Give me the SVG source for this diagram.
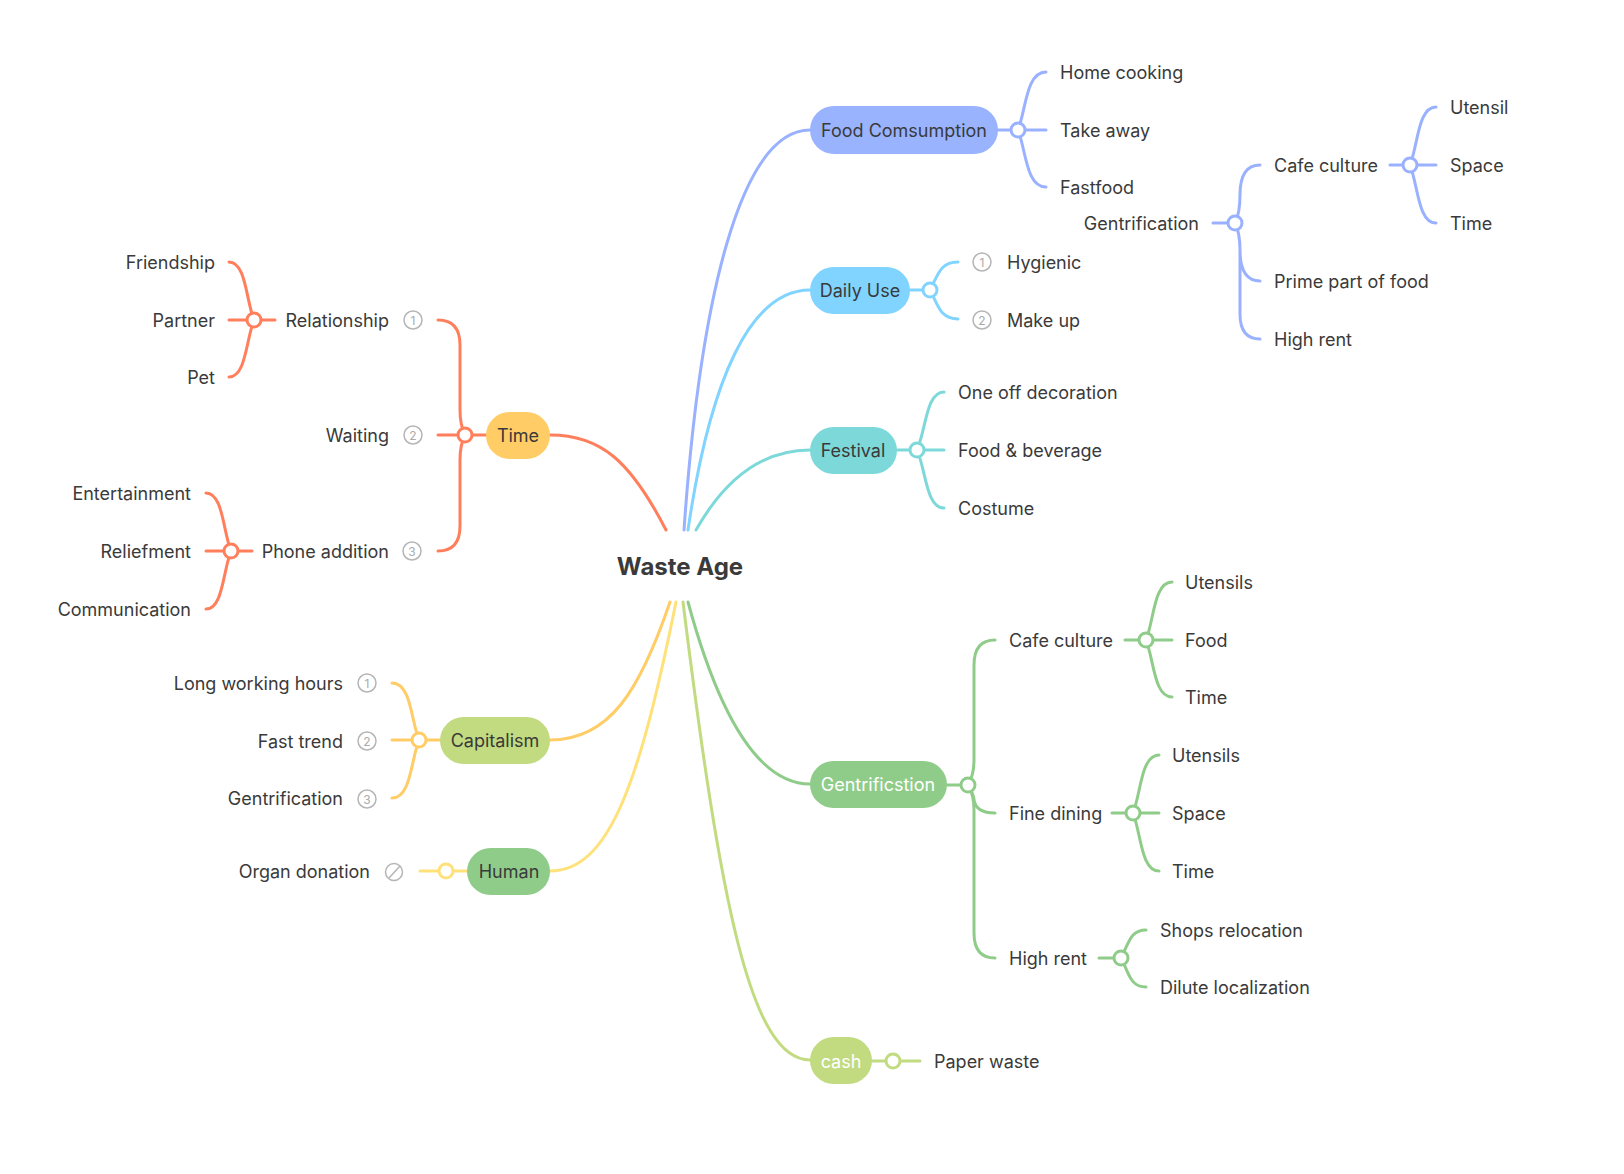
<svg xmlns="http://www.w3.org/2000/svg" width="1624" height="1174" viewBox="0 0 1624 1174">
<style>
text{font-family:Inter,"Noto Sans",sans-serif;font-size:18px;fill:#3a3a3a;dominant-baseline:central}
.r{text-anchor:end}.c{text-anchor:middle}
.w{fill:#fff}
.ln{fill:none;stroke-width:3;stroke-linecap:round}
.j{fill:#fff;stroke-width:3}
.b{fill:none;stroke:#b5b5b5;stroke-width:1.5}
.bt{font-size:12px;fill:#aaa;text-anchor:middle}
</style>
<rect width="1624" height="1174" fill="#fff"/>
<g id="connectors">
<g stroke="#99B1FF" class="ln">
<path class="ln" stroke="#99B1FF" d="M684,530 C700,300 740,130 810,130"/>
<path class="ln" stroke="#99B1FF" d="M998,130 L1046,130 M1018,130 C1026,110 1026,72 1046,72 M1018,130 C1026,150 1026,187 1046,187"/>
<path class="ln" stroke="#99B1FF" d="M1213,223 L1235,223 M1235,223 Q1240,213 1240,195 Q1240,165 1260,165 M1235,223 Q1240,233 1240,250 Q1240,281 1260,281 M1235,223 Q1240,233 1240,250 L1240,314 Q1240,339 1260,339"/>
<path class="ln" stroke="#99B1FF" d="M1390,165 L1436,165 M1410,165 C1418,145 1418,107 1436,107 M1410,165 C1418,185 1418,223 1436,223"/>
</g>
<path class="ln" stroke="#80D4FF" d="M688,530 C710,380 750,290 810,290 M910,290 L930,290 M930,290 C938,275 940,262 958,262 M930,290 C938,305 940,319 958,319"/>
<path class="ln" stroke="#7DD9D9" d="M696,530 C730,470 770,450 810,450 M897,450 L944,450 M917,450 C926,430 926,392 944,392 M917,450 C926,470 926,508 944,508"/>
<path class="ln" stroke="#FF7F5C" d="M666,530 C630,460 600,435 550,435 M486,435 L438,435 M465,435 Q460,425 460,410 L460,345 Q460,320 438,320 M465,435 Q460,445 460,460 L460,526 Q460,551 438,551"/>
<path class="ln" stroke="#FF7F5C" d="M275,320 L229,320 M254,320 C246,300 246,262 229,262 M254,320 C246,340 246,377 229,377"/>
<path class="ln" stroke="#FF7F5C" d="M252,551 L206,551 M231,551 C223,531 223,493 206,493 M231,551 C223,571 223,609 206,609"/>
<path class="ln" stroke="#FFCC66" d="M670,602 C640,690 610,740 550,740 M440,740 L392,740 M419,740 C411,720 411,683 392,683 M419,740 C411,760 411,798 392,798"/>
<path class="ln" stroke="#FFE17A" d="M676,602 C640,780 610,871 550,871 M467,871 L420,871"/>
<path class="ln" stroke="#8FCC8A" d="M688,602 C720,720 760,784 810,784 M947,785 L968,785 M968,785 Q974,775 974,760 L974,665 Q974,640 995,640 M968,785 Q974,795 974,800 Q976,813 995,813 M968,785 Q974,795 974,810 L974,933 Q974,958 995,958"/>
<path class="ln" stroke="#8FCC8A" d="M1125,640 L1172,640 M1146,640 C1154,620 1154,582 1172,582 M1146,640 C1154,660 1154,697 1172,697"/>
<path class="ln" stroke="#8FCC8A" d="M1112,813 L1159,813 M1133,813 C1141,793 1141,755 1159,755 M1133,813 C1141,833 1141,871 1159,871"/>
<path class="ln" stroke="#8FCC8A" d="M1099,958 L1121,958 M1121,958 C1129,943 1130,930 1146,930 M1121,958 C1129,973 1130,987 1146,987"/>
<path class="ln" stroke="#C2DB80" d="M683,602 C720,900 750,1060 810,1060 M872,1061 L920,1061"/>
</g>
<g id="junctions">
<circle class="j" stroke="#99B1FF" cx="1018" cy="130" r="7"/>
<circle class="j" stroke="#99B1FF" cx="1235" cy="223" r="7"/>
<circle class="j" stroke="#99B1FF" cx="1410" cy="165" r="7"/>
<circle class="j" stroke="#80D4FF" cx="930" cy="290" r="7"/>
<circle class="j" stroke="#7DD9D9" cx="917" cy="450" r="7"/>
<circle class="j" stroke="#FF7F5C" cx="465" cy="435" r="7"/>
<circle class="j" stroke="#FF7F5C" cx="254" cy="320" r="7"/>
<circle class="j" stroke="#FF7F5C" cx="231" cy="551" r="7"/>
<circle class="j" stroke="#FFCC66" cx="419" cy="740" r="7"/>
<circle class="j" stroke="#FFE17A" cx="446" cy="871" r="7"/>
<circle class="j" stroke="#8FCC8A" cx="968" cy="785" r="7"/>
<circle class="j" stroke="#8FCC8A" cx="1146" cy="640" r="7"/>
<circle class="j" stroke="#8FCC8A" cx="1133" cy="813" r="7"/>
<circle class="j" stroke="#8FCC8A" cx="1121" cy="958" r="7"/>
<circle class="j" stroke="#C2DB80" cx="893" cy="1061" r="7"/>
</g>
<g id="center"><text x="680" y="566" class="c" style="font-size:24px;font-weight:bold">Waste Age</text></g>
<g id="food"><rect x="810" y="106" width="188" height="48" rx="24" fill="#99B3FF"/><text x="904" y="130" class="c">Food Comsumption</text>
<text x="1060" y="72">Home cooking</text><text x="1060" y="130">Take away</text><text x="1060" y="187">Fastfood</text></g>
<g id="gentrification-blue"><text x="1199" y="223" class="r">Gentrification</text>
<text x="1274" y="165">Cafe culture</text><text x="1274" y="281">Prime part of food</text><text x="1274" y="339">High rent</text>
<text x="1450" y="107">Utensil</text><text x="1450" y="165">Space</text><text x="1450" y="223">Time</text></g>
<g id="daily"><rect x="810" y="267" width="100" height="47" rx="23.5" fill="#80D4FF"/><text x="860" y="290" class="c">Daily Use</text>
<circle class="b" cx="982" cy="262" r="9"/><text class="bt" x="982" y="262">1</text><text x="1007" y="262">Hygienic</text>
<circle class="b" cx="982" cy="320" r="9"/><text class="bt" x="982" y="320">2</text><text x="1007" y="320">Make up</text></g>
<g id="festival"><rect x="810" y="427" width="87" height="47" rx="23.5" fill="#7DD9D9"/><text x="853" y="450" class="c">Festival</text>
<text x="958" y="392">One off decoration</text><text x="958" y="450">Food &amp; beverage</text><text x="958" y="508">Costume</text></g>
<g id="time"><rect x="486" y="412" width="64" height="47" rx="23.5" fill="#FFCC66"/><text x="518" y="435" class="c">Time</text>
<circle class="b" cx="413" cy="320" r="9"/><text class="bt" x="413" y="320">1</text><text x="389" y="320" class="r">Relationship</text>
<circle class="b" cx="413" cy="435" r="9"/><text class="bt" x="413" y="435">2</text><text x="389" y="435" class="r">Waiting</text>
<circle class="b" cx="412" cy="551" r="9"/><text class="bt" x="412" y="551">3</text><text x="389" y="551" class="r">Phone addition</text>
<text x="215" y="262" class="r">Friendship</text><text x="215" y="320" class="r">Partner</text><text x="215" y="377" class="r">Pet</text>
<text x="191" y="493" class="r">Entertainment</text><text x="191" y="551" class="r">Reliefment</text><text x="191" y="609" class="r">Communication</text></g>
<g id="capitalism"><rect x="440" y="717" width="110" height="47" rx="23.5" fill="#C2DB80"/><text x="495" y="740" class="c">Capitalism</text>
<circle class="b" cx="367" cy="683" r="9"/><text class="bt" x="367" y="683">1</text><text x="343" y="683" class="r">Long working hours</text>
<circle class="b" cx="367" cy="741" r="9"/><text class="bt" x="367" y="741">2</text><text x="343" y="741" class="r">Fast trend</text>
<circle class="b" cx="367" cy="799" r="9"/><text class="bt" x="367" y="799">3</text><text x="343" y="798" class="r">Gentrification</text></g>
<g id="human"><rect x="467" y="848" width="83" height="47" rx="23.5" fill="#8FCC8A"/><text x="509" y="871" class="c">Human</text>
<circle class="b" cx="394" cy="872" r="8.5"/><line x1="389" y1="878" x2="400" y2="866" stroke="#b5b5b5" stroke-width="1.5"/>
<text x="370" y="871" class="r">Organ donation</text></g>
<g id="gentrificstion"><rect x="810" y="761" width="137" height="47" rx="23.5" fill="#8FCC8A"/><text x="878" y="784" class="c w">Gentrificstion</text>
<text x="1009" y="640">Cafe culture</text><text x="1009" y="813">Fine dining</text><text x="1009" y="958">High rent</text>
<text x="1185" y="582">Utensils</text><text x="1185" y="640">Food</text><text x="1185" y="697">Time</text>
<text x="1172" y="755">Utensils</text><text x="1172" y="813">Space</text><text x="1172" y="871">Time</text>
<text x="1160" y="930">Shops relocation</text><text x="1160" y="987">Dilute localization</text></g>
<g id="cash"><rect x="810" y="1037" width="62" height="47" rx="23.5" fill="#C2DB80"/><text x="841" y="1061" class="c w">cash</text>
<text x="934" y="1061">Paper waste</text></g>
</svg>
